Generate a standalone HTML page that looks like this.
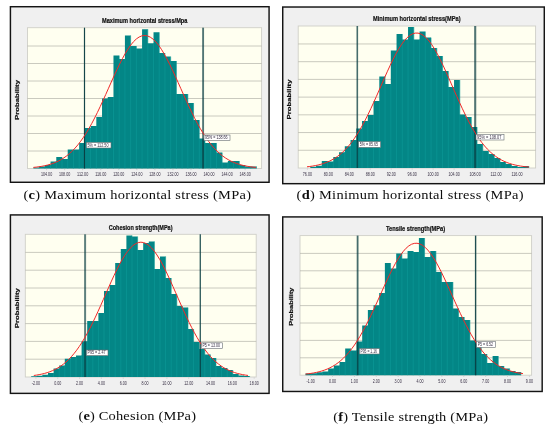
<!DOCTYPE html>
<html lang="en"><head><meta charset="utf-8"><title>Probability distributions</title>
<style>html,body{margin:0;padding:0;background:#fff}body{width:550px;height:431px;overflow:hidden}svg{display:block}.t{font-family:"Liberation Sans",Arial,sans-serif;font-weight:bold;fill:#111;stroke:#111;stroke-width:0.2px}.a{font-family:"Liberation Sans",Arial,sans-serif;fill:#383045}.c{font-family:"Liberation Serif","Times New Roman",serif;fill:#0c0c0c}</style></head><body>
<svg width="550" height="431" viewBox="0 0 550 431">
<rect x="0" y="0" width="550" height="431" fill="#ffffff"/>
<g id="panel-c">
<rect x="10.42" y="6.72" width="258.65" height="175.55" fill="#f0f0f0" stroke="#141414" stroke-width="1.45"/>
<rect x="27.5" y="27.7" width="234.1" height="140.8" fill="#fffff0" stroke="#cfcfc8" stroke-width="0.9"/>
<path d="M27.5 151H261.6M27.5 133.5H261.6M27.5 116H261.6M27.5 98.5H261.6M27.5 81H261.6M27.5 63.5H261.6M27.5 46H261.6" stroke="#adada4" stroke-width="0.65" fill="none"/>
<path d="M33.4 168.5V167.6h5.72V168.5zM39.12 168.5V166.6h5.72V168.5zM44.84 168.5V165h5.72V168.5zM50.56 168.5V161.4h5.72V168.5zM56.28 168.5V157h5.72V168.5zM62 168.5V159h5.72V168.5zM67.72 168.5V149.4h5.72V168.5zM73.44 168.5V149.4h5.72V168.5zM79.16 168.5V143h5.72V168.5zM84.88 168.5V128h5.72V168.5zM90.6 168.5V126h5.72V168.5zM96.32 168.5V117h5.72V168.5zM102.04 168.5V98.4h5.72V168.5zM107.76 168.5V97h5.72V168.5zM113.48 168.5V55.6h5.72V168.5zM119.2 168.5V59h5.72V168.5zM124.92 168.5V35.4h5.72V168.5zM130.64 168.5V46h5.72V168.5zM136.36 168.5V48.4h5.72V168.5zM142.08 168.5V29.2h5.72V168.5zM147.8 168.5V43.2h5.72V168.5zM153.52 168.5V32.3h5.72V168.5zM159.24 168.5V53h5.72V168.5zM164.96 168.5V56.6h5.72V168.5zM170.68 168.5V61h5.72V168.5zM176.4 168.5V94h5.72V168.5zM182.12 168.5V94h5.72V168.5zM187.84 168.5V103h5.72V168.5zM193.56 168.5V120h5.72V168.5zM199.28 168.5V138.6h5.72V168.5zM205 168.5V143h5.72V168.5zM210.72 168.5V143h5.72V168.5zM216.44 168.5V152.6h5.72V168.5zM222.16 168.5V162.4h5.72V168.5zM227.88 168.5V161h5.72V168.5zM233.6 168.5V161h5.72V168.5zM239.32 168.5V165h5.72V168.5zM245.04 168.5V166.4h5.72V168.5zM250.76 168.5V166.4h5.72V168.5z" fill="#038686"/>
<path d="M39.12 168.5V167.6M44.84 168.5V166.6M50.56 168.5V165M56.28 168.5V161.4M62 168.5V157M67.72 168.5V159M73.44 168.5V149.4M79.16 168.5V149.4M84.88 168.5V143M90.6 168.5V128M96.32 168.5V126M102.04 168.5V117M107.76 168.5V98.4M113.48 168.5V97M119.2 168.5V55.6M124.92 168.5V59M130.64 168.5V35.4M136.36 168.5V46M142.08 168.5V48.4M147.8 168.5V29.2M153.52 168.5V43.2M159.24 168.5V32.3M164.96 168.5V53M170.68 168.5V56.6M176.4 168.5V61M182.12 168.5V94M187.84 168.5V94M193.56 168.5V103M199.28 168.5V120M205 168.5V138.6M210.72 168.5V143M216.44 168.5V143M222.16 168.5V152.6M227.88 168.5V162.4M233.6 168.5V161M239.32 168.5V161M245.04 168.5V165M250.76 168.5V166.4M256.48 168.5V166.4" stroke="#0e9a98" stroke-width="0.6" fill="none"/>
<path d="M84.5 27.7V168.5" stroke="#083c40" stroke-opacity="0.95" stroke-width="1.2" fill="none"/>
<path d="M203.1 27.7V168.5" stroke="#083c40" stroke-opacity="0.7" stroke-width="1.9" fill="none"/>
<polyline points="33.4,167.4 36.18,167.11 38.96,166.75 41.75,166.3 44.53,165.77 47.31,165.12 50.09,164.34 52.88,163.41 55.66,162.32 58.44,161.03 61.22,159.53 64.01,157.8 66.79,155.8 69.57,153.52 72.35,150.94 75.14,148.04 77.92,144.8 80.7,141.21 83.48,137.27 86.27,132.97 89.05,128.33 91.83,123.34 94.61,118.05 97.4,112.47 100.18,106.64 102.96,100.62 105.75,94.46 108.53,88.22 111.31,81.98 114.09,75.81 116.88,69.79 119.66,64.02 122.44,58.57 125.22,53.53 128,48.98 130.79,44.99 133.57,41.63 136.35,38.96 139.13,37.03 141.92,35.87 144.7,35.5 147.48,35.93 150.26,37.15 153.05,39.13 155.83,41.85 158.61,45.26 161.4,49.29 164.18,53.88 166.96,58.95 169.74,64.43 172.53,70.22 175.31,76.25 178.09,82.42 180.87,88.67 183.66,94.9 186.44,101.06 189.22,107.07 192,112.88 194.78,118.44 197.57,123.71 200.35,128.67 203.13,133.29 205.91,137.57 208.7,141.48 211.48,145.05 214.26,148.26 217.05,151.14 219.83,153.7 222.61,155.95 225.39,157.93 228.18,159.65 230.96,161.13 233.74,162.4 236.52,163.49 239.3,164.4 242.09,165.17 244.87,165.81 247.65,166.34 250.44,166.78 253.22,167.13 256,167.42" stroke="#f02828" stroke-width="1" fill="none" stroke-linejoin="round"/>
<rect x="86.4" y="142.4" width="24.6" height="5.6" fill="#ffffff" stroke="#666c70" stroke-width="0.6"/>
<text class="a" fill="#5c6068" x="87.5" y="146.85" font-size="4.6" textLength="21" lengthAdjust="spacingAndGlyphs">5% = 112.50</text>
<rect x="204" y="135" width="26" height="5.4" fill="#ffffff" stroke="#666c70" stroke-width="0.6"/>
<text class="a" fill="#5c6068" x="205.1" y="139.35" font-size="4.6" textLength="22.4" lengthAdjust="spacingAndGlyphs">95% = 138.66</text>
<path d="M46.6 168.9v1.3M64.65 168.9v1.3M82.7 168.9v1.3M100.75 168.9v1.3M118.8 168.9v1.3M136.85 168.9v1.3M154.9 168.9v1.3M172.95 168.9v1.3M191 168.9v1.3M209.05 168.9v1.3M227.1 168.9v1.3M245.15 168.9v1.3" stroke="#c4c4c4" stroke-width="0.7" fill="none"/>
<text class="a" x="41" y="175.8" font-size="4.6" textLength="11.2" lengthAdjust="spacingAndGlyphs">104.00</text>
<text class="a" x="59.05" y="175.8" font-size="4.6" textLength="11.2" lengthAdjust="spacingAndGlyphs">108.00</text>
<text class="a" x="77.1" y="175.8" font-size="4.6" textLength="11.2" lengthAdjust="spacingAndGlyphs">112.00</text>
<text class="a" x="95.15" y="175.8" font-size="4.6" textLength="11.2" lengthAdjust="spacingAndGlyphs">116.00</text>
<text class="a" x="113.2" y="175.8" font-size="4.6" textLength="11.2" lengthAdjust="spacingAndGlyphs">120.00</text>
<text class="a" x="131.25" y="175.8" font-size="4.6" textLength="11.2" lengthAdjust="spacingAndGlyphs">124.00</text>
<text class="a" x="149.3" y="175.8" font-size="4.6" textLength="11.2" lengthAdjust="spacingAndGlyphs">128.00</text>
<text class="a" x="167.35" y="175.8" font-size="4.6" textLength="11.2" lengthAdjust="spacingAndGlyphs">132.00</text>
<text class="a" x="185.4" y="175.8" font-size="4.6" textLength="11.2" lengthAdjust="spacingAndGlyphs">136.00</text>
<text class="a" x="203.45" y="175.8" font-size="4.6" textLength="11.2" lengthAdjust="spacingAndGlyphs">140.00</text>
<text class="a" x="221.5" y="175.8" font-size="4.6" textLength="11.2" lengthAdjust="spacingAndGlyphs">144.00</text>
<text class="a" x="239.55" y="175.8" font-size="4.6" textLength="11.2" lengthAdjust="spacingAndGlyphs">148.00</text>
<text class="t" x="102" y="23.4" font-size="6.4" textLength="85.4" lengthAdjust="spacingAndGlyphs">Maximum horizontal stress/Mpa</text>
<text class="t" transform="translate(19.4 120) rotate(-90)" font-size="6.1" textLength="40" lengthAdjust="spacingAndGlyphs">Probability</text>
<text class="c" transform="translate(23.5 198.8) scale(1.11 1)" font-size="13" textLength="204.95" lengthAdjust="spacing">(<tspan font-weight="bold">c</tspan>) Maximum horizontal stress (MPa)</text>
</g>
<g id="panel-d">
<rect x="282.73" y="7.02" width="261.55" height="176.65" fill="#f0f0f0" stroke="#141414" stroke-width="1.45"/>
<rect x="298.2" y="26" width="237.4" height="142" fill="#fffff0" stroke="#cfcfc8" stroke-width="0.9"/>
<path d="M298.2 150.28H535.6M298.2 132.56H535.6M298.2 114.84H535.6M298.2 97.12H535.6M298.2 79.4H535.6M298.2 61.68H535.6M298.2 43.96H535.6" stroke="#adada4" stroke-width="0.65" fill="none"/>
<path d="M310.3 168V166.8h5.75V168zM316.05 168V165.8h5.75V168zM321.8 168V161h5.75V168zM327.55 168V161.5h5.75V168zM333.3 168V157h5.75V168zM339.05 168V152.3h5.75V168zM344.8 168V146.2h5.75V168zM350.55 168V140h5.75V168zM356.3 168V128.5h5.75V168zM362.05 168V121h5.75V168zM367.8 168V115h5.75V168zM373.55 168V101h5.75V168zM379.3 168V76.4h5.75V168zM385.05 168V84h5.75V168zM390.8 168V50.4h5.75V168zM396.55 168V34h5.75V168zM402.3 168V39.4h5.75V168zM408.05 168V27h5.75V168zM413.8 168V39.6h5.75V168zM419.55 168V31.6h5.75V168zM425.3 168V37.6h5.75V168zM431.05 168V48h5.75V168zM436.8 168V56h5.75V168zM442.55 168V71h5.75V168zM448.3 168V87h5.75V168zM454.05 168V80h5.75V168zM459.8 168V114.4h5.75V168zM465.55 168V117h5.75V168zM471.3 168V127h5.75V168zM477.05 168V144h5.75V168zM482.8 168V151h5.75V168zM488.55 168V154h5.75V168zM494.3 168V158h5.75V168zM500.05 168V162h5.75V168zM505.8 168V164h5.75V168zM511.55 168V166h5.75V168zM517.3 168V167h5.75V168zM523.05 168V166h5.75V168z" fill="#038686"/>
<path d="M316.05 168V166.8M321.8 168V165.8M327.55 168V161M333.3 168V161.5M339.05 168V157M344.8 168V152.3M350.55 168V146.2M356.3 168V140M362.05 168V128.5M367.8 168V121M373.55 168V115M379.3 168V101M385.05 168V76.4M390.8 168V84M396.55 168V50.4M402.3 168V34M408.05 168V39.4M413.8 168V27M419.55 168V39.6M425.3 168V31.6M431.05 168V37.6M436.8 168V48M442.55 168V56M448.3 168V71M454.05 168V87M459.8 168V80M465.55 168V114.4M471.3 168V117M477.05 168V127M482.8 168V144M488.55 168V151M494.3 168V154M500.05 168V158M505.8 168V162M511.55 168V164M517.3 168V166M523.05 168V167M528.8 168V166" stroke="#0e9a98" stroke-width="0.6" fill="none"/>
<path d="M357.3 26V168" stroke="#083c40" stroke-opacity="0.75" stroke-width="1.6" fill="none"/>
<path d="M475.2 26V168" stroke="#083c40" stroke-opacity="0.7" stroke-width="2.1" fill="none"/>
<polyline points="307,166.79 309.77,166.47 312.55,166.07 315.32,165.59 318.1,165 320.88,164.29 323.65,163.45 326.43,162.44 329.2,161.26 331.98,159.87 334.75,158.25 337.52,156.39 340.3,154.25 343.07,151.81 345.85,149.06 348.62,145.97 351.4,142.53 354.18,138.73 356.95,134.57 359.73,130.05 362.5,125.18 365.27,119.97 368.05,114.45 370.82,108.66 373.6,102.64 376.38,96.44 379.15,90.13 381.93,83.77 384.7,77.44 387.48,71.22 390.25,65.19 393.02,59.45 395.8,54.07 398.57,49.16 401.35,44.77 404.12,41 406.9,37.89 409.68,35.52 412.45,33.91 415.23,33.1 418,33.1 420.77,33.92 423.55,35.53 426.32,37.92 429.1,41.03 431.88,44.81 434.65,49.2 437.43,54.12 440.2,59.5 442.98,65.24 445.75,71.27 448.52,77.49 451.3,83.83 454.07,90.19 456.85,96.5 459.62,102.7 462.4,108.72 465.18,114.5 467.95,120.02 470.73,125.22 473.5,130.09 476.27,134.61 479.05,138.77 481.82,142.56 484.6,146 487.38,149.08 490.15,151.83 492.93,154.27 495.7,156.4 498.48,158.27 501.25,159.88 504.02,161.27 506.8,162.45 509.57,163.46 512.35,164.3 515.12,165 517.9,165.59 520.67,166.07 523.45,166.47 526.23,166.79 529,167.05" stroke="#f02828" stroke-width="1" fill="none" stroke-linejoin="round"/>
<rect x="358.6" y="141.6" width="22" height="5.8" fill="#ffffff" stroke="#666c70" stroke-width="0.6"/>
<text class="a" fill="#5c6068" x="359.7" y="146.15" font-size="4.6" textLength="18.4" lengthAdjust="spacingAndGlyphs">5% = 85.65</text>
<rect x="476" y="134.4" width="28" height="5.6" fill="#ffffff" stroke="#666c70" stroke-width="0.6"/>
<text class="a" fill="#5c6068" x="477.1" y="138.85" font-size="4.6" textLength="24.4" lengthAdjust="spacingAndGlyphs">95% = 108.07</text>
<path d="M307.4 168.4v1.3M328.36 168.4v1.3M349.32 168.4v1.3M370.28 168.4v1.3M391.24 168.4v1.3M412.2 168.4v1.3M433.16 168.4v1.3M454.12 168.4v1.3M475.08 168.4v1.3M496.04 168.4v1.3M517 168.4v1.3" stroke="#c4c4c4" stroke-width="0.7" fill="none"/>
<text class="a" x="302.82" y="176.2" font-size="4.6" textLength="9.16" lengthAdjust="spacingAndGlyphs">76.00</text>
<text class="a" x="323.78" y="176.2" font-size="4.6" textLength="9.16" lengthAdjust="spacingAndGlyphs">80.00</text>
<text class="a" x="344.74" y="176.2" font-size="4.6" textLength="9.16" lengthAdjust="spacingAndGlyphs">84.00</text>
<text class="a" x="365.7" y="176.2" font-size="4.6" textLength="9.16" lengthAdjust="spacingAndGlyphs">88.00</text>
<text class="a" x="386.66" y="176.2" font-size="4.6" textLength="9.16" lengthAdjust="spacingAndGlyphs">92.00</text>
<text class="a" x="407.62" y="176.2" font-size="4.6" textLength="9.16" lengthAdjust="spacingAndGlyphs">96.00</text>
<text class="a" x="427.56" y="176.2" font-size="4.6" textLength="11.2" lengthAdjust="spacingAndGlyphs">100.00</text>
<text class="a" x="448.52" y="176.2" font-size="4.6" textLength="11.2" lengthAdjust="spacingAndGlyphs">104.00</text>
<text class="a" x="469.48" y="176.2" font-size="4.6" textLength="11.2" lengthAdjust="spacingAndGlyphs">108.00</text>
<text class="a" x="490.44" y="176.2" font-size="4.6" textLength="11.2" lengthAdjust="spacingAndGlyphs">112.00</text>
<text class="a" x="511.4" y="176.2" font-size="4.6" textLength="11.2" lengthAdjust="spacingAndGlyphs">116.00</text>
<text class="t" x="373" y="21.1" font-size="6.8" textLength="87.6" lengthAdjust="spacingAndGlyphs">Minimum horizontal stress(MPa)</text>
<text class="t" transform="translate(291.3 119.4) rotate(-90)" font-size="6.1" textLength="39.9" lengthAdjust="spacingAndGlyphs">Probability</text>
<text class="c" transform="translate(296.6 199.4) scale(1.11 1)" font-size="13" textLength="204.41" lengthAdjust="spacing">(<tspan font-weight="bold">d</tspan>) Minimum horizontal stress (MPa)</text>
</g>
<g id="panel-e">
<rect x="10.42" y="214.92" width="258.65" height="178.45" fill="#f0f0f0" stroke="#141414" stroke-width="1.45"/>
<rect x="25.3" y="234.3" width="230.9" height="142.7" fill="#fffff0" stroke="#cfcfc8" stroke-width="0.9"/>
<path d="M25.3 359.2H256.2M25.3 341.4H256.2M25.3 323.6H256.2M25.3 305.8H256.2M25.3 288H256.2M25.3 270.2H256.2M25.3 252.4H256.2" stroke="#adada4" stroke-width="0.65" fill="none"/>
<path d="M31.2 377V376.2h5.6V377zM36.8 377V375.8h5.6V377zM42.4 377V374.8h5.6V377zM48 377V373h5.6V377zM53.6 377V368.5h5.6V377zM59.2 377V365.6h5.6V377zM64.8 377V358.8h5.6V377zM70.4 377V357h5.6V377zM76 377V355.5h5.6V377zM81.6 377V341.3h5.6V377zM87.2 377V321h5.6V377zM92.8 377V321h5.6V377zM98.4 377V313h5.6V377zM104 377V291h5.6V377zM109.6 377V285h5.6V377zM115.2 377V263h5.6V377zM120.8 377V249h5.6V377zM126.4 377V235.4h5.6V377zM132 377V236.6h5.6V377zM137.6 377V250h5.6V377zM143.2 377V243h5.6V377zM148.8 377V241.4h5.6V377zM154.4 377V269h5.6V377zM160 377V256.4h5.6V377zM165.6 377V278h5.6V377zM171.2 377V294h5.6V377zM176.8 377V306h5.6V377zM182.4 377V307.6h5.6V377zM188 377V329h5.6V377zM193.6 377V342h5.6V377zM199.2 377V349h5.6V377zM204.8 377V354.6h5.6V377zM210.4 377V358h5.6V377zM216 377V366h5.6V377zM221.6 377V368h5.6V377zM227.2 377V370h5.6V377zM232.8 377V374h5.6V377zM238.4 377V375.4h5.6V377zM244 377V376h5.6V377z" fill="#038686"/>
<path d="M36.8 377V376.2M42.4 377V375.8M48 377V374.8M53.6 377V373M59.2 377V368.5M64.8 377V365.6M70.4 377V358.8M76 377V357M81.6 377V355.5M87.2 377V341.3M92.8 377V321M98.4 377V321M104 377V313M109.6 377V291M115.2 377V285M120.8 377V263M126.4 377V249M132 377V235.4M137.6 377V236.6M143.2 377V250M148.8 377V243M154.4 377V241.4M160 377V269M165.6 377V256.4M171.2 377V278M176.8 377V294M182.4 377V306M188 377V307.6M193.6 377V329M199.2 377V342M204.8 377V349M210.4 377V354.6M216 377V358M221.6 377V366M227.2 377V368M232.8 377V370M238.4 377V374M244 377V375.4M249.6 377V376" stroke="#0e9a98" stroke-width="0.6" fill="none"/>
<path d="M85.1 234.3V377" stroke="#083c40" stroke-opacity="0.65" stroke-width="2.0" fill="none"/>
<path d="M200.3 234.3V377" stroke="#083c40" stroke-opacity="0.8" stroke-width="1.4" fill="none"/>
<polyline points="33.8,375.48 36.48,375.1 39.15,374.64 41.83,374.09 44.51,373.43 47.19,372.65 49.86,371.72 52.54,370.63 55.22,369.36 57.9,367.89 60.57,366.19 63.25,364.25 65.93,362.04 68.61,359.55 71.28,356.76 73.96,353.65 76.64,350.22 79.32,346.45 82,342.34 84.67,337.9 87.35,333.15 90.03,328.08 92.7,322.74 95.38,317.14 98.06,311.34 100.74,305.38 103.41,299.31 106.09,293.2 108.77,287.11 111.45,281.12 114.12,275.3 116.8,269.73 119.48,264.48 122.16,259.64 124.83,255.26 127.51,251.44 130.19,248.21 132.87,245.63 135.54,243.76 138.22,242.61 140.9,242.2 143.58,242.55 146.25,243.64 148.93,245.47 151.61,247.99 154.29,251.17 156.96,254.96 159.64,259.29 162.32,264.1 165,269.32 167.68,274.88 170.35,280.68 173.03,286.66 175.71,292.75 178.38,298.86 181.06,304.93 183.74,310.9 186.42,316.72 189.09,322.33 191.77,327.69 194.45,332.78 197.13,337.56 199.81,342.02 202.48,346.15 205.16,349.95 207.84,353.41 210.51,356.54 213.19,359.35 215.87,361.87 218.55,364.09 221.23,366.05 223.9,367.77 226.58,369.26 229.26,370.54 231.94,371.65 234.61,372.58 237.29,373.38 239.97,374.05 242.64,374.61 245.32,375.07 248,375.45" stroke="#f02828" stroke-width="1" fill="none" stroke-linejoin="round"/>
<rect x="86.4" y="350" width="21.6" height="5.6" fill="#ffffff" stroke="#666c70" stroke-width="0.6"/>
<text class="a" fill="#5c6068" x="87.5" y="354.45" font-size="4.6" textLength="18" lengthAdjust="spacingAndGlyphs">P95 = 2.47</text>
<rect x="201.3" y="342.8" width="21.3" height="5.9" fill="#ffffff" stroke="#666c70" stroke-width="0.6"/>
<text class="a" fill="#5c6068" x="202.4" y="347.4" font-size="4.6" textLength="17.7" lengthAdjust="spacingAndGlyphs">P5 = 13.00</text>
<path d="M35.9 377.4v1.3M57.73 377.4v1.3M79.56 377.4v1.3M101.39 377.4v1.3M123.22 377.4v1.3M145.05 377.4v1.3M166.88 377.4v1.3M188.71 377.4v1.3M210.54 377.4v1.3M232.37 377.4v1.3M254.2 377.4v1.3" stroke="#c4c4c4" stroke-width="0.7" fill="none"/>
<text class="a" x="31.73" y="384.8" font-size="4.6" textLength="8.34" lengthAdjust="spacingAndGlyphs">-2.00</text>
<text class="a" x="54.17" y="384.8" font-size="4.6" textLength="7.13" lengthAdjust="spacingAndGlyphs">0.00</text>
<text class="a" x="76" y="384.8" font-size="4.6" textLength="7.13" lengthAdjust="spacingAndGlyphs">2.00</text>
<text class="a" x="97.83" y="384.8" font-size="4.6" textLength="7.13" lengthAdjust="spacingAndGlyphs">4.00</text>
<text class="a" x="119.66" y="384.8" font-size="4.6" textLength="7.13" lengthAdjust="spacingAndGlyphs">6.00</text>
<text class="a" x="141.49" y="384.8" font-size="4.6" textLength="7.13" lengthAdjust="spacingAndGlyphs">8.00</text>
<text class="a" x="162.3" y="384.8" font-size="4.6" textLength="9.16" lengthAdjust="spacingAndGlyphs">10.00</text>
<text class="a" x="184.13" y="384.8" font-size="4.6" textLength="9.16" lengthAdjust="spacingAndGlyphs">12.00</text>
<text class="a" x="205.96" y="384.8" font-size="4.6" textLength="9.16" lengthAdjust="spacingAndGlyphs">14.00</text>
<text class="a" x="227.79" y="384.8" font-size="4.6" textLength="9.16" lengthAdjust="spacingAndGlyphs">16.00</text>
<text class="a" x="249.62" y="384.8" font-size="4.6" textLength="9.16" lengthAdjust="spacingAndGlyphs">18.00</text>
<text class="t" x="108.7" y="229.9" font-size="6.6" textLength="63.8" lengthAdjust="spacingAndGlyphs">Cohesion strength(MPa)</text>
<text class="t" transform="translate(18.6 328.2) rotate(-90)" font-size="6.1" textLength="40" lengthAdjust="spacingAndGlyphs">Probability</text>
<text class="c" transform="translate(78.5 420) scale(1.11 1)" font-size="13" textLength="105.86" lengthAdjust="spacing">(<tspan font-weight="bold">e</tspan>) Cohesion (MPa)</text>
</g>
<g id="panel-f">
<rect x="282.73" y="216.92" width="259.45" height="174.55" fill="#f0f0f0" stroke="#141414" stroke-width="1.45"/>
<rect x="300" y="235.6" width="231.6" height="139.6" fill="#fffff0" stroke="#cfcfc8" stroke-width="0.9"/>
<path d="M300 357.8H531.6M300 340.4H531.6M300 323H531.6M300 305.6H531.6M300 288.2H531.6M300 270.8H531.6M300 253.4H531.6" stroke="#adada4" stroke-width="0.65" fill="none"/>
<path d="M305.5 375.2V373.6h5.67V375.2zM311.17 375.2V373.2h5.67V375.2zM316.84 375.2V372.2h5.67V375.2zM322.51 375.2V371.5h5.67V375.2zM328.18 375.2V368.5h5.67V375.2zM333.85 375.2V365.6h5.67V375.2zM339.52 375.2V362h5.67V375.2zM345.19 375.2V348.4h5.67V375.2zM350.86 375.2V350.6h5.67V375.2zM356.53 375.2V341.5h5.67V375.2zM362.2 375.2V325.6h5.67V375.2zM367.87 375.2V310h5.67V375.2zM373.54 375.2V305.3h5.67V375.2zM379.21 375.2V293h5.67V375.2zM384.88 375.2V263h5.67V375.2zM390.55 375.2V268.6h5.67V375.2zM396.22 375.2V253.4h5.67V375.2zM401.89 375.2V258.6h5.67V375.2zM407.56 375.2V251h5.67V375.2zM413.23 375.2V252h5.67V375.2zM418.9 375.2V238h5.67V375.2zM424.57 375.2V257h5.67V375.2zM430.24 375.2V251h5.67V375.2zM435.91 375.2V272h5.67V375.2zM441.58 375.2V282h5.67V375.2zM447.25 375.2V282h5.67V375.2zM452.92 375.2V308.5h5.67V375.2zM458.59 375.2V317h5.67V375.2zM464.26 375.2V320h5.67V375.2zM469.93 375.2V340.6h5.67V375.2zM475.6 375.2V344h5.67V375.2zM481.27 375.2V354h5.67V375.2zM486.94 375.2V363h5.67V375.2zM492.61 375.2V356h5.67V375.2zM498.28 375.2V366h5.67V375.2zM503.95 375.2V368.6h5.67V375.2zM509.62 375.2V371h5.67V375.2zM515.29 375.2V372h5.67V375.2z" fill="#038686"/>
<path d="M311.17 375.2V373.6M316.84 375.2V373.2M322.51 375.2V372.2M328.18 375.2V371.5M333.85 375.2V368.5M339.52 375.2V365.6M345.19 375.2V362M350.86 375.2V348.4M356.53 375.2V350.6M362.2 375.2V341.5M367.87 375.2V325.6M373.54 375.2V310M379.21 375.2V305.3M384.88 375.2V293M390.55 375.2V263M396.22 375.2V268.6M401.89 375.2V253.4M407.56 375.2V258.6M413.23 375.2V251M418.9 375.2V252M424.57 375.2V238M430.24 375.2V257M435.91 375.2V251M441.58 375.2V272M447.25 375.2V282M452.92 375.2V282M458.59 375.2V308.5M464.26 375.2V317M469.93 375.2V320M475.6 375.2V340.6M481.27 375.2V344M486.94 375.2V354M492.61 375.2V363M498.28 375.2V356M503.95 375.2V366M509.62 375.2V368.6M515.29 375.2V371M520.96 375.2V372" stroke="#0e9a98" stroke-width="0.6" fill="none"/>
<path d="M357.6 235.6V375.2" stroke="#083c40" stroke-opacity="0.75" stroke-width="1.8" fill="none"/>
<path d="M475.6 235.6V375.2" stroke="#083c40" stroke-opacity="0.9" stroke-width="1.4" fill="none"/>
<polyline points="305.5,374.05 308.22,373.76 310.94,373.39 313.66,372.95 316.38,372.41 319.09,371.77 321.81,371.01 324.53,370.1 327.25,369.03 329.97,367.78 332.69,366.32 335.41,364.64 338.12,362.72 340.84,360.53 343.56,358.06 346.28,355.28 349,352.19 351.72,348.76 354.44,345 357.16,340.91 359.88,336.48 362.59,331.73 365.31,326.67 368.03,321.34 370.75,315.76 373.47,309.98 376.19,304.05 378.91,298.02 381.62,291.96 384.34,285.94 387.06,280.03 389.78,274.31 392.5,268.85 395.22,263.74 397.94,259.06 400.66,254.87 403.38,251.24 406.09,248.23 408.81,245.89 411.53,244.26 414.25,243.38 416.97,243.24 419.69,243.86 422.41,245.22 425.12,247.31 427.84,250.08 430.56,253.49 433.28,257.48 436,262 438.72,266.96 441.44,272.3 444.16,277.94 446.88,283.79 449.59,289.78 452.31,295.83 455.03,301.88 457.75,307.86 460.47,313.7 463.19,319.35 465.91,324.78 468.62,329.94 471.34,334.8 474.06,339.35 476.78,343.56 479.5,347.45 482.22,350.99 484.94,354.2 487.66,357.09 490.38,359.67 493.09,361.96 495.81,363.98 498.53,365.74 501.25,367.28 503.97,368.6 506.69,369.73 509.41,370.69 512.12,371.51 514.84,372.2 517.56,372.77 520.28,373.24 523,373.63" stroke="#f02828" stroke-width="1" fill="none" stroke-linejoin="round"/>
<rect x="359.4" y="348.6" width="20" height="5.4" fill="#ffffff" stroke="#666c70" stroke-width="0.6"/>
<text class="a" fill="#5c6068" x="360.5" y="352.95" font-size="4.6" textLength="16.4" lengthAdjust="spacingAndGlyphs">P95 = 1.16</text>
<rect x="476.6" y="341.4" width="19" height="6" fill="#ffffff" stroke="#666c70" stroke-width="0.6"/>
<text class="a" fill="#5c6068" x="477.7" y="346.05" font-size="4.6" textLength="15.4" lengthAdjust="spacingAndGlyphs">P5 = 6.52</text>
<path d="M310.6 375.6v1.3M332.48 375.6v1.3M354.36 375.6v1.3M376.24 375.6v1.3M398.12 375.6v1.3M420 375.6v1.3M441.88 375.6v1.3M463.76 375.6v1.3M485.64 375.6v1.3M507.52 375.6v1.3M529.4 375.6v1.3" stroke="#c4c4c4" stroke-width="0.7" fill="none"/>
<text class="a" x="306.43" y="382.7" font-size="4.6" textLength="8.34" lengthAdjust="spacingAndGlyphs">-1.00</text>
<text class="a" x="328.92" y="382.7" font-size="4.6" textLength="7.13" lengthAdjust="spacingAndGlyphs">0.00</text>
<text class="a" x="350.8" y="382.7" font-size="4.6" textLength="7.13" lengthAdjust="spacingAndGlyphs">1.00</text>
<text class="a" x="372.68" y="382.7" font-size="4.6" textLength="7.13" lengthAdjust="spacingAndGlyphs">2.00</text>
<text class="a" x="394.56" y="382.7" font-size="4.6" textLength="7.13" lengthAdjust="spacingAndGlyphs">3.00</text>
<text class="a" x="416.44" y="382.7" font-size="4.6" textLength="7.13" lengthAdjust="spacingAndGlyphs">4.00</text>
<text class="a" x="438.32" y="382.7" font-size="4.6" textLength="7.13" lengthAdjust="spacingAndGlyphs">5.00</text>
<text class="a" x="460.2" y="382.7" font-size="4.6" textLength="7.13" lengthAdjust="spacingAndGlyphs">6.00</text>
<text class="a" x="482.08" y="382.7" font-size="4.6" textLength="7.13" lengthAdjust="spacingAndGlyphs">7.00</text>
<text class="a" x="503.96" y="382.7" font-size="4.6" textLength="7.13" lengthAdjust="spacingAndGlyphs">8.00</text>
<text class="a" x="525.84" y="382.7" font-size="4.6" textLength="7.13" lengthAdjust="spacingAndGlyphs">9.00</text>
<text class="t" x="386" y="231.4" font-size="6.6" textLength="59.2" lengthAdjust="spacingAndGlyphs">Tensile strength(MPa)</text>
<text class="t" transform="translate(292.6 325.8) rotate(-90)" font-size="6.1" textLength="38.3" lengthAdjust="spacingAndGlyphs">Probability</text>
<text class="c" transform="translate(333.2 420.6) scale(1.11 1)" font-size="13" textLength="139.46" lengthAdjust="spacing">(<tspan font-weight="bold">f</tspan>) Tensile strength (MPa)</text>
</g>
</svg></body></html>
